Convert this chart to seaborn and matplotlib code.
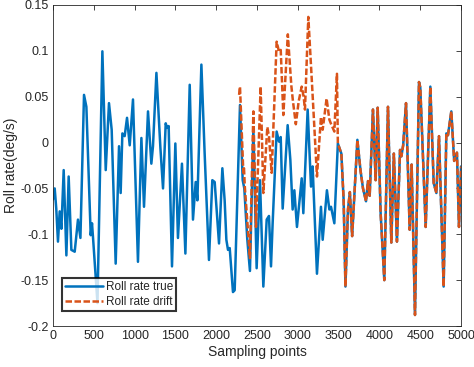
import seaborn as sns
import matplotlib.pyplot as plt
import pandas as pd

# ---- values ----
# true roll rate, 0 .. ~3500 (visible blue part)
true_x = [0, 21, 40, 61, 82, 103, 131, 164, 192, 225, 266, 306, 336, 380, 409,
          462, 478, 490, 545, 605, 646, 686, 719, 768, 809, 829, 850, 878, 907,
          940, 980, 1041, 1083, 1115, 1164, 1205, 1225, 1267, 1316, 1348, 1381,
          1397, 1417, 1458, 1499, 1531, 1580, 1622, 1675, 1715, 1748, 1769, 1818,
          1858, 1911, 1952, 1981, 2034, 2075, 2103, 2124, 2144, 2165, 2205, 2226,
          2291, 2324, 2344, 2380, 2413, 2455, 2495, 2536, 2577, 2618, 2646, 2671,
          2691, 2740, 2769, 2790, 2814, 2875, 2908, 2936, 2957, 2989, 3047, 3067,
          3120, 3161, 3181, 3234, 3283, 3304, 3356, 3386, 3406, 3447]
true_y = [-0.062, -0.050, -0.072, -0.108, -0.075, -0.094, -0.030, -0.123, -0.037,
          -0.117, -0.119, -0.084, -0.104, 0.052, 0.039, -0.101, -0.088, -0.103,
          -0.175, 0.0995, -0.030, 0.043, 0.014, -0.132, -0.004, -0.055, 0.010,
          0.007, 0.027, -0.003, 0.047, -0.130, 0.005, -0.070, 0.034, -0.023,
          -0.004, 0.076, -0.006, -0.050, 0.021, 0.016, 0.018, -0.135, -0.001,
          -0.104, -0.023, -0.121, 0.063, -0.084, -0.043, -0.063, 0.085, -0.012,
          -0.128, -0.041, -0.043, -0.110, -0.028, -0.063, -0.106, -0.117, -0.115,
          -0.163, -0.161, 0.041, -0.041, -0.050, -0.105, -0.140, 0.014, -0.137,
          -0.041, -0.157, -0.084, -0.080, -0.135, -0.088, 0.012, 0.001, 0.006,
          -0.072, 0.019, -0.019, -0.073, -0.052, -0.092, -0.039, -0.077, 0.036,
          -0.048, -0.026, -0.143, -0.070, -0.106, -0.052, -0.073, -0.070, -0.088]

# drifted roll rate, ~2280 .. ~3500
drift_x = [2280, 2291, 2332, 2340, 2350, 2413, 2455, 2487, 2544, 2577, 2626,
           2646, 2679, 2740, 2769, 2790, 2822, 2877, 2920, 2940, 2975, 3010,
           3047, 3071, 3087, 3128, 3169, 3200, 3234, 3283, 3304, 3352, 3386,
           3408, 3447, 3479]
drift_y = [0.052, 0.061, -0.033, -0.028, -0.048, -0.126, 0.034, -0.092, 0.061,
           -0.055, 0.017, 0.007, -0.033, 0.110, 0.099, 0.101, 0.030, 0.118,
           0.062, 0.045, 0.020, 0.045, 0.061, 0.050, 0.036, 0.137, 0.071, 0.020,
           -0.037, 0.028, 0.014, 0.048, 0.025, 0.020, 0.012, 0.075]

# after ~3500 both curves coincide
tail_x = [3490, 3533, 3561, 3583, 3614, 3637, 3665, 3729, 3767, 3798, 3835,
          3859, 3880, 3920, 3953, 3978, 4014, 4059, 4104, 4145, 4176, 4214,
          4252, 4268, 4290, 4325, 4370, 4394, 4435, 4484, 4500, 4566, 4623,
          4664, 4697, 4729, 4786, 4819, 4839, 4880, 4915, 4949, 4974, 5000]
tail_y = [-0.001, -0.012, -0.063, -0.157, -0.073, -0.054, -0.102, 0.003,
          -0.030, -0.050, -0.064, -0.042, -0.058, 0.036, -0.041, 0.038, -0.077,
          -0.150, 0.039, -0.109, -0.012, -0.108, -0.008, -0.015, -0.003, 0.043,
          -0.095, -0.024, -0.188, 0.066, 0.060, -0.092, 0.061, -0.044, -0.055,
          0.007, -0.157, 0.010, 0.008, 0.034, -0.020, -0.011, -0.092, -0.026]

x_ticks = [0, 500, 1000, 1500, 2000, 2500, 3000, 3500, 4000, 4500, 5000]
y_ticks = [-0.2, -0.15, -0.1, -0.05, 0, 0.05, 0.1, 0.15]
y_tick_labels = ["-0.2", "-0.15", "-0.1", "-0.05", "0", "0.05", "0.1", "0.15"]

df_true = pd.DataFrame({"x": true_x + tail_x, "y": true_y + tail_y})
df_drift = pd.DataFrame({"x": drift_x + tail_x, "y": drift_y + tail_y})

# ---- plot ----
sns.set_theme(style="white")
plt.rcParams["font.family"] = ["Liberation Sans", "DejaVu Sans"]

fig = plt.figure(figsize=(4.74, 3.67), dpi=100)
ax = fig.add_axes([0.1118, 0.1117, 0.861, 0.8747])

sns.lineplot(data=df_true, x="x", y="y", color="#0072BD", linewidth=1.8,
             estimator=None, sort=False, label="Roll rate true", ax=ax,
             solid_joinstyle="round", solid_capstyle="round")
sns.lineplot(data=df_drift, x="x", y="y", color="#D95319", linewidth=1.8,
             linestyle=(0, (2.6, 1.0)), estimator=None, sort=False,
             label="Roll rate drift", ax=ax, dash_joinstyle="round")

ax.set_xlim(0, 5000)
ax.set_ylim(-0.2, 0.15)
ax.set_xticks(x_ticks)
ax.set_xticklabels([str(t) for t in x_ticks])
ax.set_yticks(y_ticks)
ax.set_yticklabels(y_tick_labels)
ax.tick_params(direction="in", length=3.5, width=0.6, colors="#262626",
               labelsize=9, top=True, right=True, pad=3)
for s in ax.spines.values():
    s.set_color("#262626")
    s.set_linewidth(0.6)

ax.set_xlabel("Sampling points", fontsize=10, color="#262626", labelpad=2)
ax.set_ylabel("Roll rate(deg/s)", fontsize=10, color="#262626", labelpad=2)

leg = ax.legend(loc="lower left", bbox_to_anchor=(0.022, 0.048), fontsize=8.5,
                frameon=True, fancybox=False, handlelength=3.2,
                borderpad=0.25, labelspacing=0.2, handletextpad=0.3,
                borderaxespad=0)
leg.get_frame().set_edgecolor("black")
leg.get_frame().set_linewidth(1.5)

fig.savefig("out.png", dpi=100)
plt.close(fig)
